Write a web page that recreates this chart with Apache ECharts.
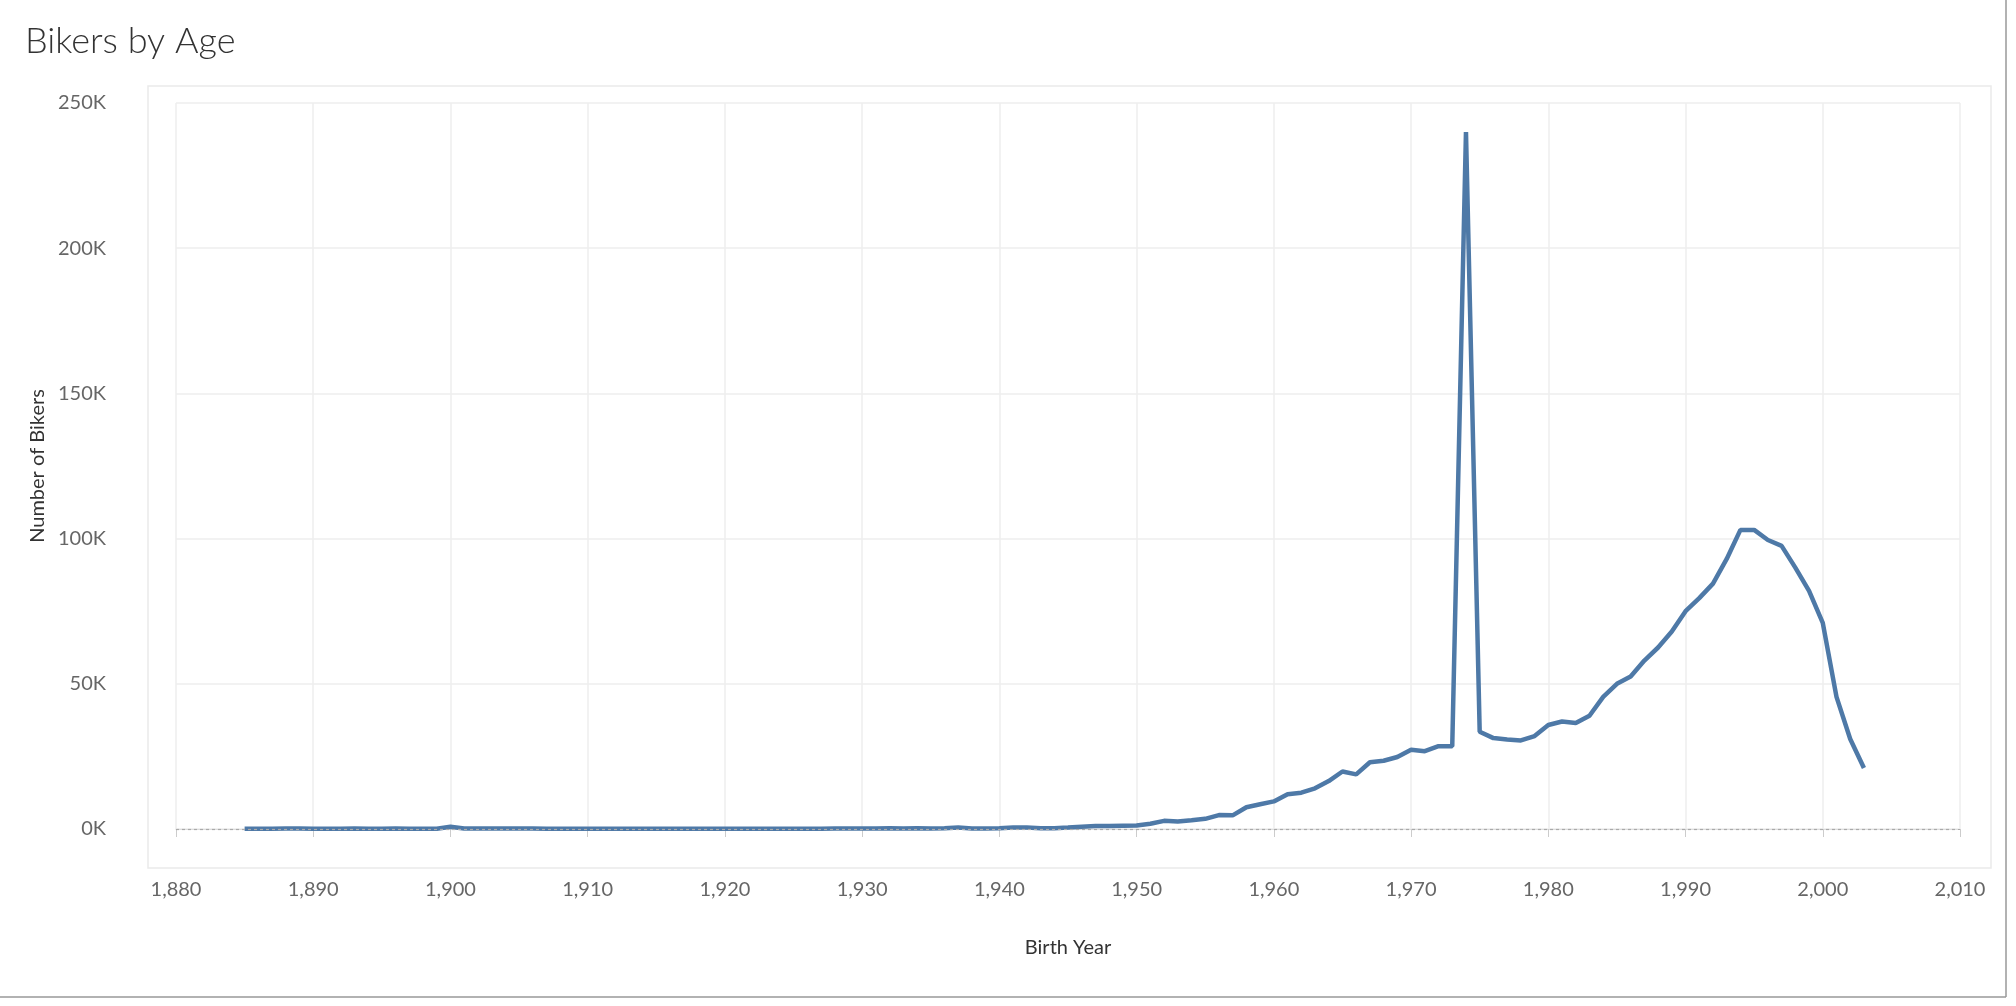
<!DOCTYPE html>
<html><head><meta charset="utf-8">
<script src="https://cdn.jsdelivr.net/npm/echarts@6/dist/echarts.min.js"></script>
<style>html,body{margin:0;padding:0;background:#fff}#c{width:2016px;height:1006px}</style>
</head><body><div id="c"></div>
<script>
const years = [];
for (let y = 1885; y <= 2003; y++) years.push(y);
const bikersK = [
0.1,0.1,0.1,0.2,0.2,0.1,0.1,0.1,0.2,0.1,0.1,0.2,0.1,0.1,0.1,0.8,0.2,0.2,0.2,0.2,
0.2,0.2,0.1,0.1,0.1,0.1,0.1,0.1,0.1,0.1,0.1,0.1,0.1,0.1,0.1,0.1,0.1,0.1,0.1,0.1,
0.1,0.1,0.1,0.2,0.2,0.2,0.2,0.3,0.2,0.3,0.2,0.3,0.5,0.2,0.2,0.3,0.5,0.5,0.3,0.3,
0.5,0.8,1.0,1.0,1.1,1.2,1.8,2.8,2.6,3.0,3.5,4.8,4.7,7.5,8.5,9.5,12,12.5,14,16.5,
19.8,18.8,23,23.5,24.8,27.3,26.8,28.5,28.5,240,33.5,31.3,30.8,30.5,32,35.8,37,36.5,39,45.5,
50,52.5,58,62.5,68,75,79.5,84.5,93,103,103,99.5,97.5,90,82,71,45.5,31,21,18.5,
16.5,8.5,3.5,1.5
];
const yTicks = [0, 50000, 100000, 150000, 200000, 250000];
const data = years.map((y, i) => [y, bikersK[i] * 1000]);
const chart = echarts.init(document.getElementById('c'));
chart.setOption({
  animation: false,
  title: { text: 'Bikers by Age', left: 20, top: 18,
    textStyle: { fontFamily: 'Lato', fontWeight: 300, fontSize: 36, color: '#333' } },
  grid: { left: 176, right: 56, top: 103, bottom: 177 },
  xAxis: { type: 'value', min: 1880, max: 2010, interval: 10, offset: 39,
    name: 'Birth Year', nameLocation: 'middle', nameGap: 70,
    nameTextStyle: { fontFamily: 'Lato', fontSize: 20, color: '#333' },
    axisLine: { show: true, lineStyle: { color: '#ddd' } },
    axisTick: { show: true, length: 8, lineStyle: { color: '#ccc' } },
    axisLabel: { fontFamily: 'Lato', fontSize: 20, color: '#666', margin: 12 },
    splitLine: { show: true, lineStyle: { color: '#eeeeee', width: 1.5 } } },
  yAxis: { type: 'value', min: 0, max: 250000, interval: 50000,
    name: 'Number of Bikers', nameLocation: 'middle', nameGap: 128,
    nameTextStyle: { fontFamily: 'Lato', fontSize: 20, color: '#333' },
    axisLine: { show: false }, axisTick: { show: false },
    axisLabel: { fontFamily: 'Lato', fontSize: 20, color: '#666', margin: 70, align: 'right',
      formatter: v => (v / 1000) + 'K' },
    splitLine: { show: true, lineStyle: { color: '#eeeeee', width: 1.5 } } },
  series: [{ type: 'line', data: data, showSymbol: false, clip: false,
    lineStyle: { color: '#4e79a7', width: 4.5 },
    markLine: { silent: true, symbol: 'none', label: { show: false },
      lineStyle: { color: '#aaa', type: [3, 3], width: 1.2 }, data: [{ yAxis: 0 }] } }],
  graphic: [
    { type: 'rect', shape: { x: 148, y: 86, width: 1843, height: 782 },
      style: { fill: 'none', stroke: '#eaeaea', lineWidth: 1.5 }, silent: true },
    { type: 'line', shape: { x1: 2006, y1: 0, x2: 2006, y2: 997 }, style: { stroke: '#999', lineWidth: 1.5 } },
    { type: 'line', shape: { x1: 0, y1: 997, x2: 2006, y2: 997 }, style: { stroke: '#999', lineWidth: 1.5 } }
  ]
});
</script></body></html>
